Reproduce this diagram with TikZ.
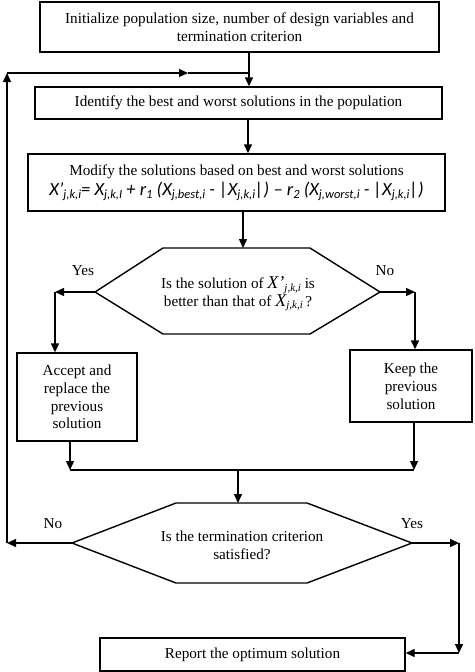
\documentclass[tikz,border=0pt]{standalone}
\usepackage{fontspec}
\setmainfont{Liberation Serif}
\newfontfamily\formfont{Carlito}
\usetikzlibrary{arrows.meta}

\newcommand{\lowidx}[1]{\raisebox{-0.35ex}{\fontsize{11}{11}\selectfont #1}}
\newcommand{\formidx}[1]{\raisebox{-0.3ex}{\fontsize{12.5}{12.5}\selectfont #1}}
\newcommand{\bigX}[1]{{\fontsize{18}{18}\selectfont\itshape #1}}

\begin{document}
\begin{tikzpicture}[x=1pt,y=-1pt,
  box/.style={draw, line width=1.4pt, inner sep=0pt, align=center},
  hexa/.style={draw, line width=1.4pt, line join=miter},
  line/.style={line width=1.4pt},
  arrow/.style={line width=1.4pt, -{Triangle[length=9pt,width=8pt]}}]
\tikzstyle{every node}=[font=\fontsize{15.2}{17.8}\selectfont]
\useasboundingbox (0,0) rectangle (474,672);

    \node[box, minimum width=399pt, minimum height=50pt] (init) at (239.5,27)
        {Initialize population size, number of design variables and\\termination criterion};
    \node[box, minimum width=407pt, minimum height=32pt] (identify) at (238.5,103)
        {Identify the best and worst solutions in the population};
    \node[box, minimum width=417pt, minimum height=57pt] (modify) at (236.5,182.5)
        {Modify the solutions based on best and worst solutions\\[3pt]
        {\formfont\itshape\fontsize{18.5}{18.5}\selectfont X’\formidx{j,k,i}= X\formidx{j,k,I} + r\formidx{1} (X\formidx{j,best,i} - |X\formidx{j,k,i}|) – r\formidx{2} (X\formidx{j,worst,i} - |X\formidx{j,k,i}|)}};

    % first decision
    \coordinate (chkL) at (95,292);
    \coordinate (chkR) at (380,292);
    \draw[hexa] (chkL) -- (163,248) -- (310,248) -- (chkR) -- (310,334) -- (163,334) -- cycle;
    \node[align=center] (check) at (238,294)
        {Is the solution of \bigX{X’}\lowidx{\itshape j,k,i} is\\better than that of \bigX{X}\lowidx{\itshape j,k,i}\,?};
    \node (yes1) at (83,271) {Yes};
    \node (no1) at (385,271) {No};

    \node[box, minimum width=120pt, minimum height=88pt] (accept) at (77,397)
        {Accept and\\replace the\\previous\\solution};
    \node[box, minimum width=122pt, minimum height=72pt] (keep) at (411,386)
        {Keep the\\previous\\solution};

    % second decision
    \coordinate (termL) at (72,543);
    \coordinate (termR) at (412,543);
    \draw[hexa] (termL) -- (176,503) -- (307,503) -- (termR) -- (307,583) -- (176,583) -- cycle;
    \node[align=center] (term) at (242,545.5) {Is the termination criterion\\satisfied?};
    \node (no2) at (53,524) {No};
    \node (yes2) at (412,524) {Yes};

    \node[box, minimum width=305pt, minimum height=33pt] (report) at (252.5,654.5)
        {Report the optimum solution};

    % connectors
    \coordinate (j1) at (249,73);
    \coordinate (loopM) at (188,73);
    \coordinate (loopT) at (7,73);
    \coordinate (loopB) at (7,543);
    \coordinate (yesC) at (55,292);
    \coordinate (noC) at (415,292);
    \coordinate (mrgL) at (70,470);
    \coordinate (mrgM) at (238,470);
    \coordinate (mrgR) at (414,470);
    \coordinate (endC) at (459,543);
    \coordinate (endB) at (459,653);

    \draw[line] (init.south -| j1) -- (j1);
    \draw[arrow] (j1) -- (identify.north -| j1);
    \draw[arrow] (identify.south -| 248,0) -- (modify.north -| 248,0);
    \draw[arrow] (modify.south -| 243,0) -- (243,248);

    \draw[arrow] (chkL) -- (yesC);
    \draw[arrow] (yesC) -- (yesC |- accept.north);
    \draw[arrow] (chkR) -- (noC);
    \draw[arrow] (noC) -- (noC |- keep.north);

    \draw[arrow] (mrgL |- accept.south) -- (mrgL);
    \draw[arrow] (mrgR |- keep.south) -- (mrgR);
    \draw[line] (mrgL) -- (mrgR);
    \draw[arrow] (mrgM) -- (238,503);

    \draw[arrow] (termL) -- (loopB);
    \draw[arrow] (loopB) -- (loopT);
    \draw[arrow] (loopT) -- (loopM);
    \draw[line] (loopM) -- (j1);

    \draw[arrow] (termR) -- (endC);
    \draw[arrow] (endC) -- (endB);
    \draw[arrow] (endB) -- (endB -| report.east);
\end{tikzpicture}
\end{document}
